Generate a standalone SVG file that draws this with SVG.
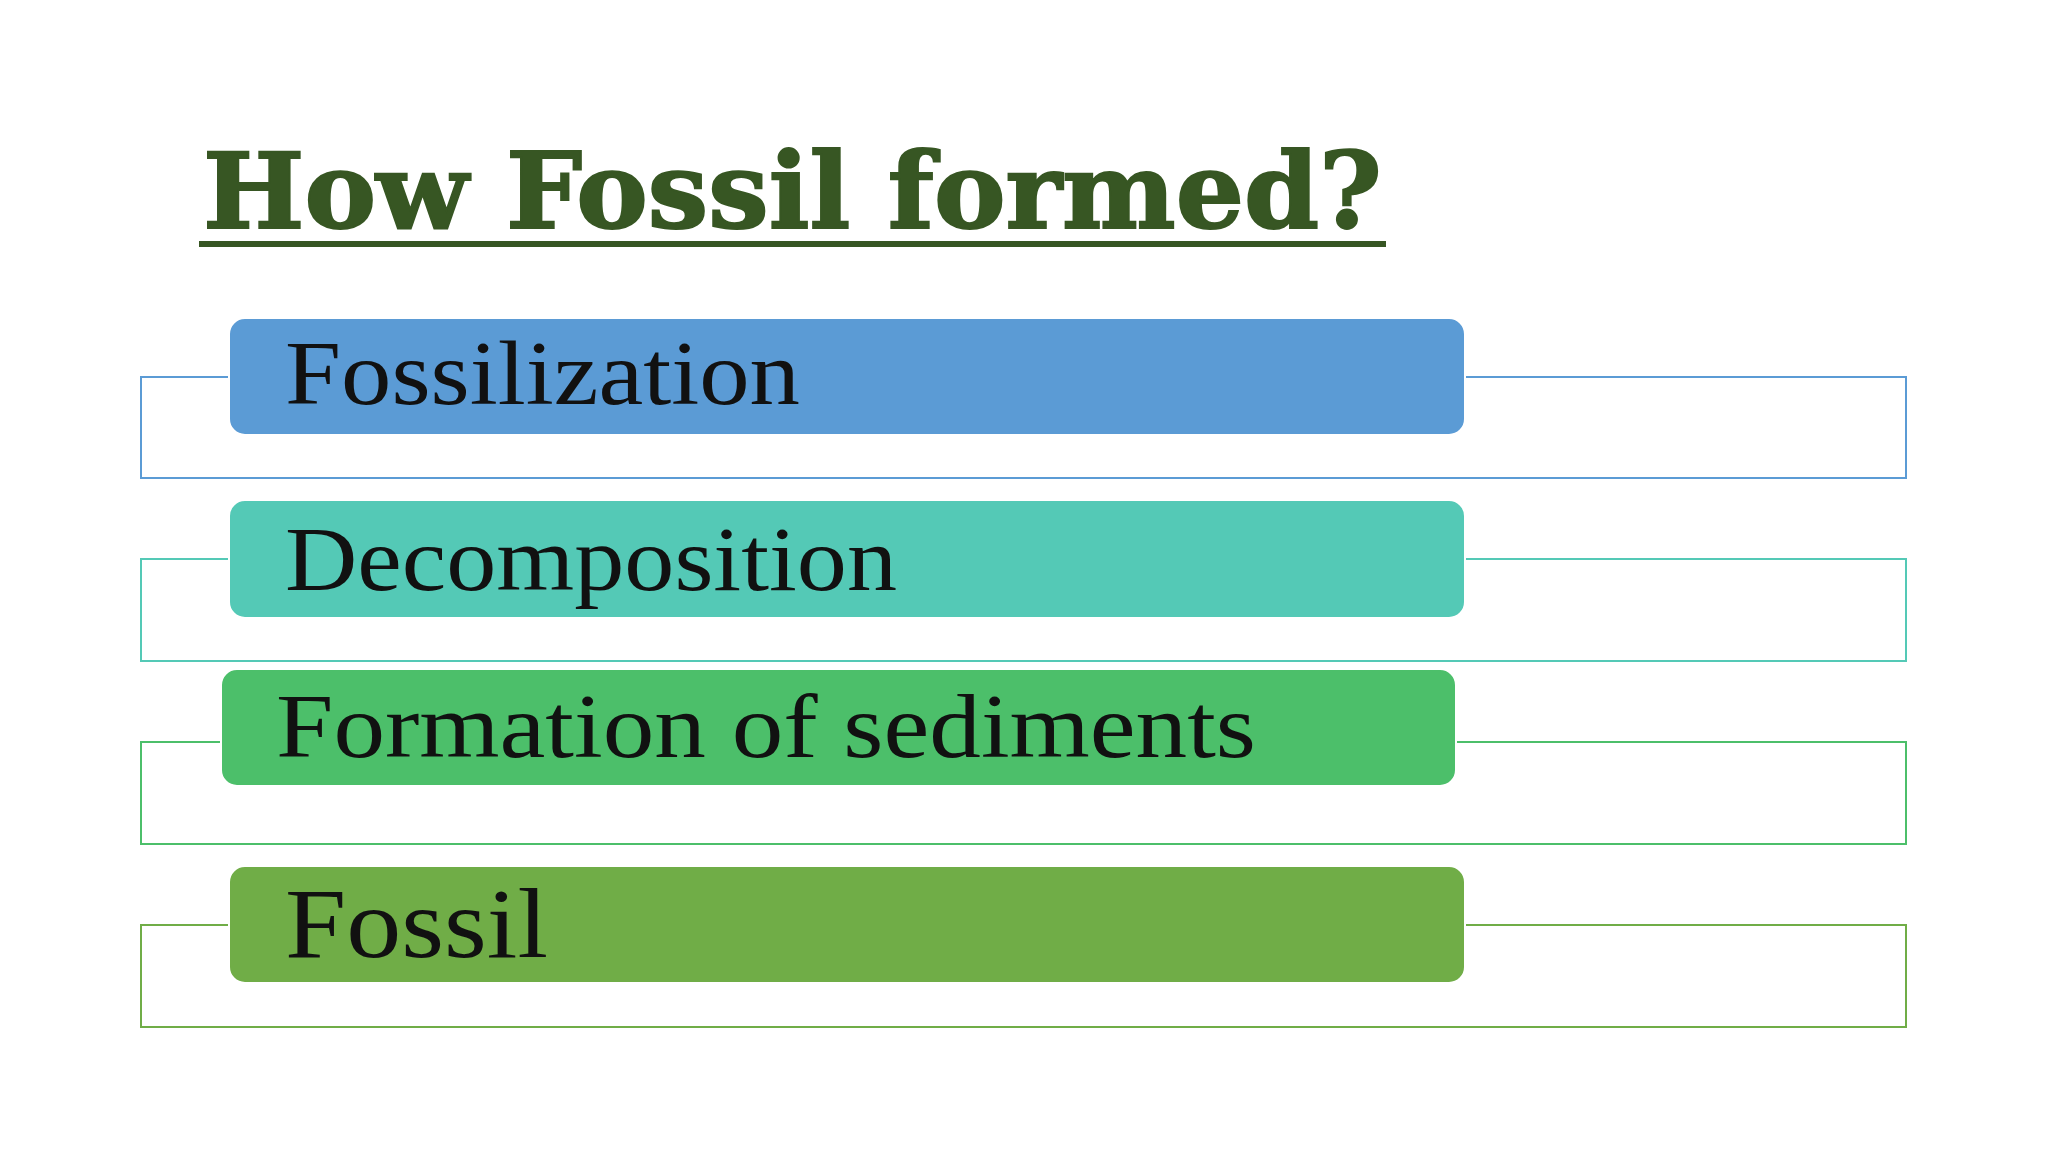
<svg xmlns="http://www.w3.org/2000/svg" width="2048" height="1152" viewBox="0 0 2048 1152">
  <style>
    .title { font-family: "DejaVu Serif", "Liberation Serif", serif; font-weight: bold; font-size: 104px; fill: #375623; stroke: #375623; stroke-width: 2; }
    .lbl { font-family: "Liberation Serif", "Times New Roman", serif; fill: #111111; }
    .frame { fill: none; stroke-width: 2; }
    .box { stroke: #ffffff; stroke-width: 2; }
  </style>
  <rect x="0" y="0" width="2048" height="1152" fill="#ffffff"/>

  <g id="title">
    <text class="title" x="203" y="228" textLength="1179" lengthAdjust="spacingAndGlyphs">How Fossil formed?</text>
    <rect x="199" y="241" width="1187" height="6" fill="#375623"/>
  </g>

  <g id="connectors">
    <rect class="frame" x="141" y="377" width="1765" height="101" stroke="#5b9bd5"/>
    <rect class="frame" x="141" y="559" width="1765" height="102" stroke="#54c9b6"/>
    <rect class="frame" x="141" y="742" width="1765" height="102" stroke="#4cbf6a"/>
    <rect class="frame" x="141" y="925" width="1765" height="102" stroke="#70ad47"/>
  </g>

  <g id="node-fossilization">
    <rect class="box" x="229" y="318" width="1236" height="117" rx="16" fill="#5b9bd5"/>
    <text class="lbl" x="285" y="404" font-size="90" textLength="515" lengthAdjust="spacingAndGlyphs">Fossilization</text>
  </g>

  <g id="node-decomposition">
    <rect class="box" x="229" y="500" width="1236" height="118" rx="16" fill="#54c9b6"/>
    <text class="lbl" x="285" y="590" font-size="92" textLength="612" lengthAdjust="spacingAndGlyphs">Decomposition</text>
  </g>

  <g id="node-formation">
    <rect class="box" x="221" y="669" width="1235" height="117" rx="16" fill="#4cbf6a"/>
    <text class="lbl" x="276" y="757" font-size="90" textLength="980" lengthAdjust="spacingAndGlyphs">Formation of sediments</text>
  </g>

  <g id="node-fossil">
    <rect class="box" x="229" y="866" width="1236" height="117" rx="16" fill="#70ad47"/>
    <text class="lbl" x="285" y="957" font-size="100" textLength="263" lengthAdjust="spacingAndGlyphs">Fossil</text>
  </g>
</svg>
